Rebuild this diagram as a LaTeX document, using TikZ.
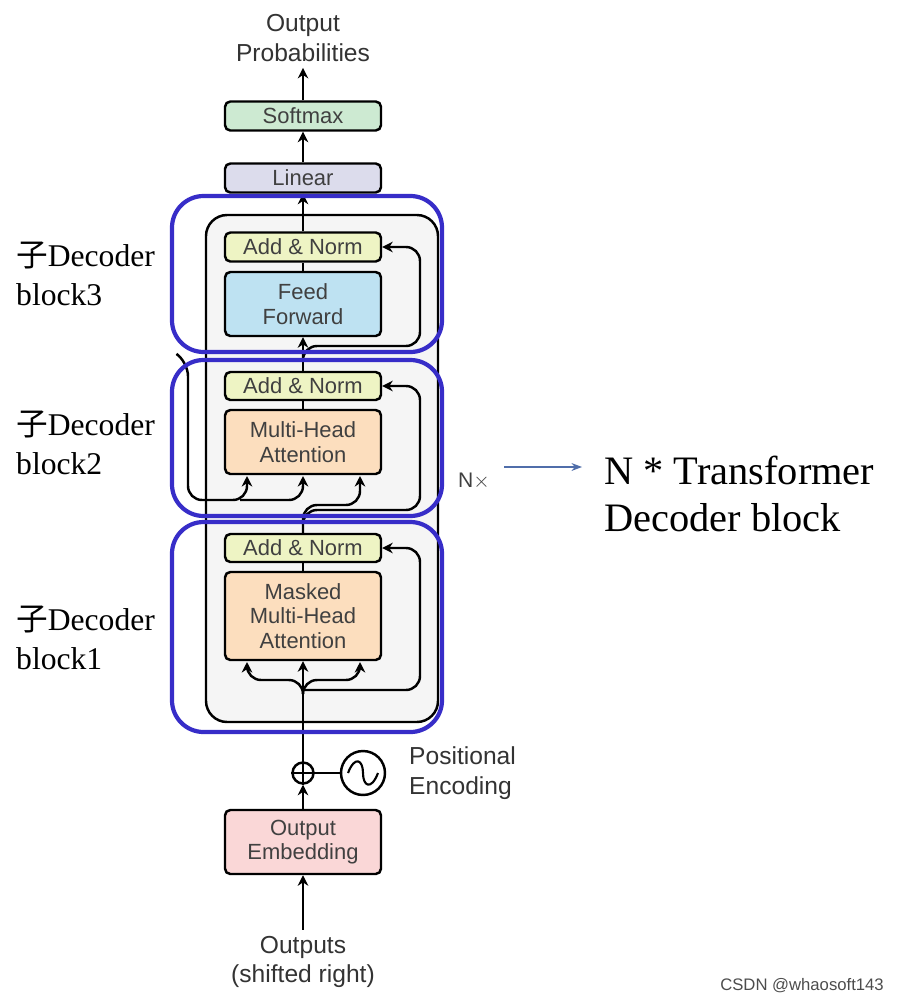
\documentclass[tikz,border=0pt]{standalone}
\usepackage{fontspec}
\setmainfont{Liberation Serif}
\newfontfamily\sansf{Liberation Sans}
\newfontfamily\cjk{Noto Sans CJK SC}
\usetikzlibrary{arrows.meta}
\definecolor{gnorm}{RGB}{238,244,196}
\definecolor{gsoft}{RGB}{205,234,210}
\definecolor{glin}{RGB}{220,220,236}
\definecolor{gff}{RGB}{190,226,242}
\definecolor{gatt}{RGB}{252,222,190}
\definecolor{gemb}{RGB}{250,215,215}
\definecolor{bblue}{RGB}{55,45,200}
\definecolor{nxarr}{RGB}{80,110,170}
\begin{document}
\begin{tikzpicture}[x=0.02cm,y=-0.02cm,
  box/.style={draw=black,line width=1.4pt,rounded corners=3pt,minimum width=3.12cm,
    align=center,font=\sansf\fontsize{12.5}{14}\selectfont,text=black!75},
  ln/.style={line width=1.4pt,rounded corners=8pt},
  ar/.style={ln,-{Stealth[length=6pt,width=6pt]}},
  blk/.style={draw=bblue,line width=2.4pt,rounded corners=18pt},
  lab/.style={font=\fontsize{18}{22}\selectfont,align=left,anchor=west}]
\useasboundingbox (0,0) rectangle (903,1001);
% outer Nx frame
\draw[line width=1.4pt,fill=black!4,rounded corners=12pt] (206,215) rectangle (438,722);
% boxes
\node[box,fill=gsoft,minimum height=0.58cm] (soft) at (303,116) {Softmax};
\node[box,fill=glin,minimum height=0.58cm] (lin) at (303,178) {Linear};
\node[box,fill=gnorm,minimum height=0.58cm] (an3) at (303,247) {Add \& Norm};
\node[box,fill=gff,minimum height=1.28cm] (ff) at (303,304) {Feed\\Forward};
\node[box,fill=gnorm,minimum height=0.56cm] (an2) at (303,386) {Add \& Norm};
\node[box,fill=gatt,minimum height=1.28cm] (mha) at (303,442) {Multi-Head\\Attention};
\node[box,fill=gnorm,minimum height=0.56cm] (an1) at (303,548) {Add \& Norm};
\node[box,fill=gatt,minimum height=1.76cm] (mmha) at (303,616) {Masked\\Multi-Head\\Attention};
\node[box,fill=gemb,minimum height=1.28cm] (emb) at (303,842) {Output\\Embedding};
\node[draw,circle,line width=1.4pt,minimum size=0.42cm,inner sep=0pt] (plus) at (303,773) {};
\draw[line width=1.2pt] (plus.north)--(plus.south) (plus.west)--(plus.east);
\node[draw,circle,line width=1.4pt,minimum size=0.88cm,inner sep=0pt] (pe) at (363,773) {};
\draw[line width=1.2pt] (348,773) .. controls (355,755) and (363,760) .. (363,773) .. controls (363,786) and (371,791) .. (378,773);
% texts
\node[align=center,font=\sansf\fontsize{14}{17}\selectfont,text=black!80] (op) at (303,38) {Output\\Probabilities};
\node[align=center,font=\sansf\fontsize{14}{17}\selectfont,text=black!80] (inp) at (303,962) {Outputs\\(shifted right)};
\node[align=left,anchor=west,font=\sansf\fontsize{14}{17}\selectfont,text=black!80] (pet) at (403,773) {Positional\\Encoding};
\node[font=\sansf\fontsize{12}{13}\selectfont,text=black!75] (nx) at (474,481) {N$\times$};
\node[lab,font=\fontsize{23}{27}\selectfont] (tdb) at (598,494) {N * Transformer\\Decoder block};
\node[lab] (l3) at (10,274) {{\cjk 子}Decoder\\block3};
\node[lab] (l2) at (10,443) {{\cjk 子}Decoder\\block2};
\node[lab] (l1) at (10,638) {{\cjk 子}Decoder\\block1};
\node[font=\sansf\fontsize{9.5}{10}\selectfont,text=black!70,anchor=east] at (890,986) {CSDN @whaosoft143};
\draw[nxarr,line width=0.8pt,-{Stealth[length=6pt]}] (nx.east)++(8,-14) coordinate (na) -- ++(78,0);
% main flow
\draw[ar] (inp.north) -- (emb.south);
\draw[ar] (emb.north) -- (plus.south);
\draw[line width=1.4pt] (pe.west) -- (plus.east);
\draw[ar] (plus.north) -- (mmha.south);
\coordinate (r1) at (303,690);
\draw[ar] (r1) -- (420,690) -- (420,548) -- (an1.east);
\draw[ar] (303,686) -- (303,680) -- (247,680) -- (247,662);
\draw[ar] (303,686) -- (303,680) -- (360,680) -- (360,662);
\draw[ln] (mmha.north) -- (an1.south);
\draw[ar] (an1.north) -- (303,505) -- (360,505) -- (360,476);
\draw[ar] (303,522) -- (303,510) -- (420,510) -- (420,386) -- (an2.east);
\draw[ar] (178,355) -- (188,362) -- (188,500) -- (247,500) -- (247,476);
\draw[ar] (240,500) -- (303,500) -- (303,476);
\draw[ln] (mha.north) -- (an2.south);
\draw[ar] (an2.north) -- (ff.south);
\draw[ar] (303,352) -- (303,346) -- (420,346) -- (420,247) -- (an3.east);
\draw[ln] (ff.north) -- (an3.south);
\draw[ar] (an3.north) -- (lin.south);
\draw[ar] (lin.north) -- (soft.south);
\draw[ar] (soft.north) -- (op.south);
% decoder sub-blocks
\draw[blk] (172,196) rectangle (442,352);
\draw[blk] (172,360) rectangle (442,516);
\draw[blk] (172,522) rectangle (442,732);
\end{tikzpicture}
\end{document}
